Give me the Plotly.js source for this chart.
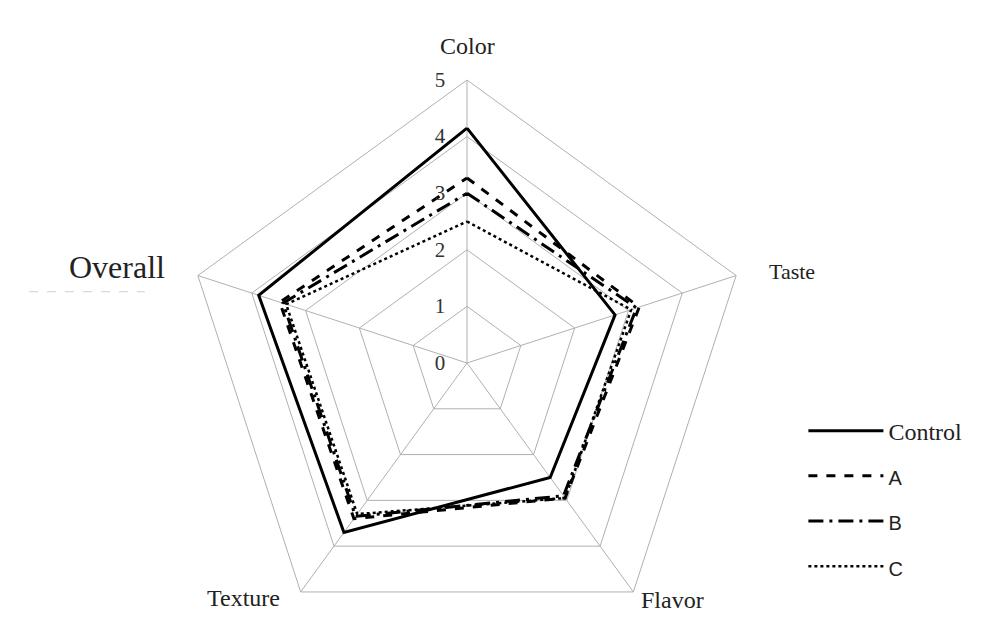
<!DOCTYPE html>
<html>
<head>
<meta charset="utf-8">
<script src="https://cdn.plot.ly/plotly-3.0.1.min.js"></script>
<style>
  html, body { margin: 0; padding: 0; overflow: hidden; background: #fff; }
  #radar { width: 998px; height: 660px; }
</style>
</head>
<body>
<div id="radar"></div>
<script>
// sensory attributes (clockwise from top)
const attributes = ["Color", "Taste", "Flavor", "Texture", "Overall"];

// mean scores
const control = [4.15, 2.75, 2.5, 3.7, 3.87];
const sampleA = [3.27, 3.2, 2.95, 3.4, 3.48];
const sampleB = [3.0, 3.15, 2.9, 3.35, 3.42];
const sampleC = [2.5, 3.05, 2.95, 3.3, 3.36];

const close = arr => arr.concat(arr[0]);

function series(name, values, dash, width, group) {
    return {
        type: "scatterpolar",
        mode: "lines",
        name: name,
        legendgroup: group,
        r: close(values),
        theta: close(attributes),
        line: { color: "#000", width: width, dash: dash },
        hoverinfo: "name+r+theta"
    };
}

const sans = s => '<span style="font-family:Liberation Sans, Arial;font-size:20px">' + s + '</span>';

const traces = [
    series("Control", control, "solid", 3, "g1"),
    series(sans("A"), sampleA, "dash", 3, "g2"),
    series(sans("B"), sampleB, "longdashdot", 3, "g3"),
    series(sans("C"), sampleC, "dot", 2.5, "g4")
];

const gridGray = "#b0b0b0";
const serif = "Liberation Serif, Times New Roman, serif";

// where the attribute names sit around the pentagon (paper coords)
const labelPos = {
    Color:   [0.468, 0.930, 24],
    Taste:   [0.794, 0.588, 22],
    Flavor:  [0.674, 0.091, 24],
    Texture: [0.2435, 0.094, 24],
    Overall: [0.117, 0.5955, 32]
};

const labelNotes = attributes.map(a => ({
    xref: "paper", yref: "paper",
    x: labelPos[a][0], y: labelPos[a][1],
    xanchor: "center", yanchor: "middle",
    text: a, showarrow: false,
    font: { family: serif, size: labelPos[a][2], color: "#222" }
}));

const layout = {
    width: 998,
    height: 660,
    margin: { l: 0, r: 0, t: 0, b: 0 },
    paper_bgcolor: "#fff",
    font: { family: serif, color: "#222" },
    showlegend: true,
    legend: {
        x: 0.805, y: 0.381, xanchor: "left", yanchor: "top",
        font: { family: serif, size: 24, color: "#222" },
        itemwidth: 75,
        tracegroupgap: 11,
        bgcolor: "rgba(0,0,0,0)"
    },
    polar: {
        domain: { x: [0.1844, 0.7515], y: [0.0212, 0.8788] },
        gridshape: "linear",
        bgcolor: "#fff",
        radialaxis: {
            range: [0, 5],
            dtick: 1,
            angle: 90,
            side: "counterclockwise",
            showline: false,
            gridcolor: gridGray,
            gridwidth: 1,
            ticks: "outside",
            ticklen: 14,
            tickcolor: "rgba(0,0,0,0)",
            tickangle: 90,
            tickfont: { family: serif, size: 21, color: "#333" }
        },
        angularaxis: {
            rotation: 90,
            direction: "clockwise",
            showticklabels: false,
            showline: true,
            linecolor: gridGray,
            linewidth: 1,
            gridcolor: gridGray,
            ticks: ""
        }
    },
    annotations: labelNotes,
    shapes: [
        {
            type: "line", xref: "paper", yref: "paper",
            x0: 0.029, x1: 0.145, y0: 0.558, y1: 0.558,
            line: { color: "#cfcfcf", width: 1, dash: "dash" }
        }
    ]
};

Plotly.newPlot("radar", traces, layout, { displayModeBar: false, staticPlot: true });
</script>
</body>
</html>
